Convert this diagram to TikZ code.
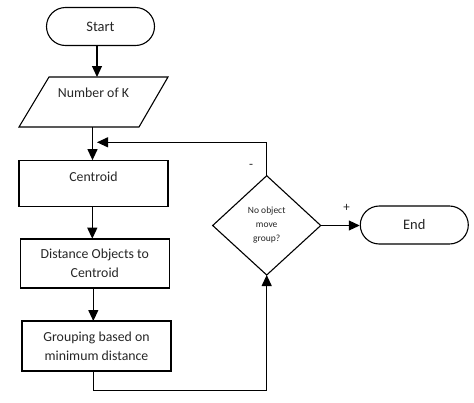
\documentclass[tikz,border=0pt]{standalone}
\usepackage{fontspec}
\setmainfont{Carlito}
\usetikzlibrary{arrows.meta,shapes.geometric}
\begin{document}
\begin{tikzpicture}[x=1pt,y=-1pt,
  line width=1.1pt,
  arr/.style={-{Triangle[length=11pt,width=10pt]}},
  term/.style={draw,rectangle,rounded corners=19pt,minimum width=108pt,minimum height=38pt,inner sep=0pt,font=\fontsize{14.5}{16}\selectfont,text=black!85},
  procbox/.style={draw,rectangle,minimum width=149pt,minimum height=49pt,inner sep=0pt},
  txt/.style={font=\fontsize{13.8}{18.5}\selectfont,align=center,text=black!85},
  sgn/.style={font=\fontsize{13}{15}\selectfont,text=black!85}]
\useasboundingbox (0,0) rectangle (474,402);
% Start
\node[term] (start) at (100.5,26.5) {Start};
% parallelogram
\draw (49,77) -- (168,77) -- (139,127) -- (19,127) -- cycle;
\node[txt] (numk) at (93.5,93) {Number of K};
\coordinate (ptop) at (97,77);
\coordinate (pbot) at (92.5,127);
% boxes
\node[procbox,minimum height=46pt] (centroid) at (93.5,183.7) {};
\node[txt] (centroidt) at (93.5,177) {Centroid};
\node[procbox] (dist) at (94.8,263.5) {};
\node[txt] (distt) at (94.8,263.5) {Distance Objects to\\Centroid};
\node[procbox,minimum height=50pt] (group) at (96.5,346) {};
\node[txt] (groupt) at (96.5,346.5) {Grouping based on\\minimum distance};
% decision
\draw (266.7,175.7) -- (320.7,225.5) -- (266.7,275) -- (212.7,225.5) -- cycle;
\node[font=\fontsize{9.5}{14}\selectfont,align=center,text=black!85] (dect) at (266.7,225.5) {No object\\move\\group?};
\coordinate (dtop) at (266.7,175.7);
\coordinate (dbot) at (266.7,275);
\coordinate (dright) at (320.7,225.5);
% End
\node[term] (end) at (414.3,225) {End};
% connectors
\coordinate (c1) at (92.3,206.7);
\coordinate (c2) at (92.3,238.7);
\coordinate (c3) at (93.3,288.5);
\coordinate (c4) at (93.3,321);
\draw[arr] (start.south -| ptop) -- (ptop);
\draw[arr] (pbot) -- (pbot |- centroid.north);
\draw[arr] (c1) -- (c2);
\draw[arr] (c3) -- (c4);
\coordinate (gb) at (93.3,371);
\coordinate (corner1) at (93.3,390.3);
\draw[arr] (gb) -- (corner1) -- (corner1 -| dbot) -- (dbot);
\coordinate (corner2) at (266.7,142.3);
\coordinate (fbtip) at (97,142.3);
\draw[arr] (dtop) -- (corner2) -- (fbtip);
\draw[arr] (dright) -- (end.west |- dright);
\node[sgn] (minus) at (251,166) {-};
\node[sgn] (plus) at (346.7,208) {+};
\end{tikzpicture}
\end{document}
